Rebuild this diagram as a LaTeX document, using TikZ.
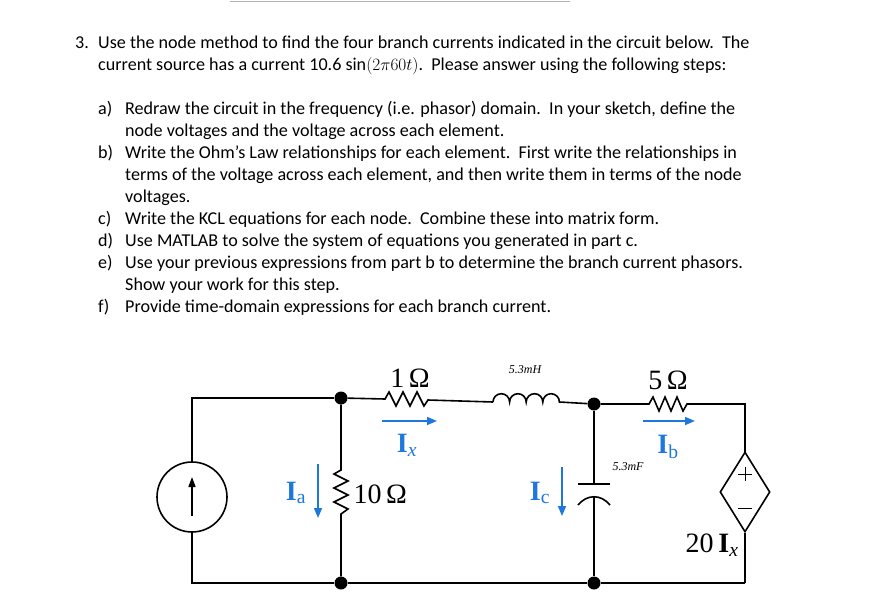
\documentclass[tikz,border=0pt]{standalone}
\usepackage{fontspec}
\setmainfont{Carlito}
\newfontfamily\serifc{Liberation Serif}
\usetikzlibrary{arrows.meta,shapes.geometric}
\definecolor{cblue}{RGB}{30,120,220}
\begin{document}
\begin{tikzpicture}[x=1pt,y=-1pt,
  txt/.style={anchor=base west,inner sep=0,font=\fontsize{18.1}{21}\selectfont},
  wire/.style={line width=1.6pt},
  dot/.style={circle,fill=black,inner sep=0,minimum size=13pt},
  cur/.style={cblue,line width=1.6pt,-{Triangle[length=10pt,width=8pt]}},
  clab/.style={cblue,font=\serifc\fontsize{28}{28}\selectfont},
  vlab/.style={font=\serifc\fontsize{28}{28}\selectfont},
  small/.style={font=\serifc\itshape\fontsize{12}{12}\selectfont}]
\useasboundingbox (0,0) rectangle (869,605);
\draw[gray!60,line width=1pt] (230,1) -- (570,1);
% text
\node[txt] at (75,48) {3.};
\node[txt] (l1) at (98,48) {Use the node method to find the four branch currents indicated in the circuit below.\ \ The};
\node[txt] (l2) at (98,70) {current source has a current 10.6 $\sin(2\pi 60t)$.\ \ Please answer using the following steps:};
\foreach \y/\l/\t in {114/a)/{Redraw the circuit in the frequency (i.e. phasor) domain.\ \ In your sketch, define the},
  136//{node voltages and the voltage across each element.},
  158/b)/{Write the Ohm’s Law relationships for each element.\ \ First write the relationships in},
  180//{terms of the voltage across each element, and then write them in terms of the node},
  202//{voltages.},
  224/c)/{Write the KCL equations for each node.\ \ Combine these into matrix form.},
  246/d)/{Use MATLAB to solve the system of equations you generated in part c.},
  268/e)/{Use your previous expressions from part b to determine the branch current phasors.},
  290//{Show your work for this step.},
  312/f)/{Provide time-domain expressions for each branch current.}}
  {\node[txt] at (98,\y) {\l}; \node[txt] at (125,\y) {\t};}
% circuit
\coordinate (TL) at (192,398); \coordinate (BL) at (192,583);
\node[dot] (A) at (341,398) {}; \node[dot] (A2) at (341,583) {};
\node[dot] (B) at (594,404) {}; \node[dot] (B2) at (594,583) {};
\coordinate (TR) at (745,404); \coordinate (BR) at (745,583);
\node[circle,draw,line width=1.6pt,minimum size=70pt] (S) at (192,497) {};
\draw[wire,-{Triangle[length=10pt,width=7pt]}] (192,516) -- (192,477);
\draw[wire] (S.north) -- (TL) -- (A);
\draw[wire] (S.south) -- (BL) -- (A2) -- (B2) -- (BR);
% 1 ohm
\draw[wire] (A) -- (385,399) -- (389,392) -- (396,406) -- (403,392) -- (410,406) -- (417,392) -- (424,406) -- (428,400) -- (493,402);
\draw[wire] (493,402) arc[start angle=180,end angle=360,radius=8.3] arc[start angle=180,end angle=360,radius=8.3] arc[start angle=180,end angle=360,radius=8.3] arc[start angle=180,end angle=360,radius=8.3] -- (B);
\node[vlab] (r1) at (410,378) {1\,Ω};
\node[small] (Ll) at (525,370) {5.3mH};
% 10 ohm
\draw[wire] (A) -- (341,470) -- (334,474) -- (348,481) -- (334,488) -- (348,495) -- (334,502) -- (348,509) -- (341,514) -- (A2);
\node[vlab,anchor=west] (r10) at (350,494) {10\,Ω};
% capacitor
\draw[wire] (B) -- (594,484); \draw[wire] (578,484) -- (610,484);
\draw[wire] (578,505) .. controls (587,494) and (601,494) .. (610,505);
\draw[wire] (594,497) -- (B2);
\node[small] (Cl) at (628,467) {5.3mF};
% 5 ohm
\draw[wire] (B) -- (649,404) -- (653,397) -- (659,411) -- (665,397) -- (671,411) -- (677,397) -- (683,411) -- (687,404) -- (TR) -- (745,452);
\node[vlab] (r5) at (668,380) {5\,Ω};
\node[diamond,draw,line width=1.6pt,minimum width=50pt,minimum height=80pt,inner sep=0] (D) at (745,492) {};
\draw[wire] (D.south) -- (BR);
\draw[line width=0.8pt] (738,474) -- (752,474) (745,467) -- (745,481) (738,508) -- (752,508);
\node[vlab,anchor=east] (dl) at (742,545) {20\,\textbf{I}\textsubscript{\itshape x}};
% currents
\draw[cur] (382,421) -- (437,421); \node[clab] (Ix) at (407,445) {\textbf{I}\textsubscript{\itshape x}};
\draw[cur] (643,421) -- (695,421); \node[clab] (Ib) at (668,447) {\textbf{I}\textsubscript{b}};
\draw[cur] (318,464) -- (318,518); \node[clab] (Ia) at (296,493) {\textbf{I}\textsubscript{a}};
\draw[cur] (562,467) -- (562,516); \node[clab] (Ic) at (540,493) {\textbf{I}\textsubscript{c}};
\end{tikzpicture}
\end{document}
